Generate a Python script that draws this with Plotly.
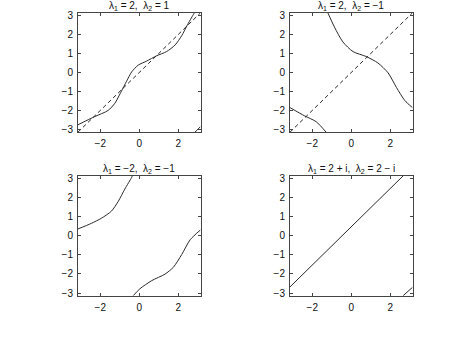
import math
import plotly.graph_objects as go

PI = math.pi

# Titles
titles = ["λ<sub>1</sub> = 2,  λ<sub>2</sub> = 1",
          "λ<sub>1</sub> = 2,  λ<sub>2</sub> = −1",
          "λ<sub>1</sub> = −2,  λ<sub>2</sub> = −1",
          "λ<sub>1</sub> = 2 + i,  λ<sub>2</sub> = 2 − i"]

# Panel 1 (λ1=2, λ2=1): main branch + wrapped piece
p1_x = [-3.1416, -2.28, -1.60, -1.25, -0.95, -0.65, -0.39, -0.05, 0.38, 0.89, 1.40, 1.84, 2.18, 2.44, 2.78, 2.83]
p1_y = [-2.75, -2.32, -2.00, -1.62, -1.05, -0.46, 0.03, 0.39, 0.60, 0.88, 1.10, 1.45, 1.94, 2.45, 3.06, 3.1416]
p1b_x = [2.86, 3.1416]
p1b_y = [-3.1416, -2.85]

# Identity reference (dashed) for the top panels
id_x = [-3.1416, 3.1416]
id_y = [-3.1416, 3.1416]

# Panel 2 (λ1=2, λ2=-1)
p2_x = [-1.20, -0.86, -0.43, 0.09, 0.77, 1.37, 1.89, 2.32, 2.75, 3.1416]
p2_y = [3.1416, 2.39, 1.61, 1.10, 0.84, 0.50, -0.02, -0.79, -1.48, -1.85]
p2b_x = [-3.1416, -2.40, -1.80, -1.29]
p2b_y = [-1.85, -2.28, -2.59, -3.1416]

# Panel 3 (λ1=-2, λ2=-1)
p3_x = [-3.1416, -2.46, -1.94, -1.42, -1.08, -0.74, -0.39, -0.36]
p3_y = [0.36, 0.65, 0.92, 1.30, 1.80, 2.45, 3.06, 3.1416]
p3b_x = [-0.31, 0.03, 0.64, 1.32, 1.75, 2.18, 2.61, 3.1416]
p3b_y = [-3.1416, -2.78, -2.35, -2.01, -1.65, -0.98, -0.21, 0.31]

# Panel 4 (λ1=2+i, λ2=2-i)
p4_x = [-3.1416, 2.66]
p4_y = [-2.68, 3.1416]
p4b_x = [2.66, 3.1416]
p4b_y = [-3.1416, -2.70]

x_ticks = [-2, 0, 2]
y_ticks = [-3, -2, -1, 0, 1, 2, 3]

W, H = 474, 338
xdom = [[78 / W, 200.5 / W], [290 / W, 412.5 / W]]
ydom = [[(H - 131.5) / H, (H - 10) / H], [(H - 298) / H, (H - 176) / H]]

fig = go.Figure()
line_col = "#2a2a2a"

panels = [
    [(p1_x, p1_y, "solid"), (p1b_x, p1b_y, "solid"), (id_x, id_y, "dash")],
    [(p2_x, p2_y, "solid"), (p2b_x, p2b_y, "solid"), (id_x, id_y, "dash")],
    [(p3_x, p3_y, "solid"), (p3b_x, p3b_y, "solid")],
    [(p4_x, p4_y, "solid"), (p4b_x, p4b_y, "solid")],
]

font = dict(family="Liberation Sans, Arial, sans-serif", size=10, color="#111")

for i, traces in enumerate(panels):
    n = i + 1
    xa = "x" if n == 1 else f"x{n}"
    ya = "y" if n == 1 else f"y{n}"
    for (xs, ys, d) in traces:
        fig.add_trace(go.Scatter(
            x=xs, y=ys, mode="lines", xaxis=xa, yaxis=ya,
            line=dict(color=line_col, width=1,
                      dash=("4px,3px" if d == "dash" else "solid"),
                      shape=("spline" if len(xs) > 2 else "linear"),
                      smoothing=0.7),
            cliponaxis=True, showlegend=False, hoverinfo="skip"))
    col = i % 2
    row = i // 2
    axcommon = dict(range=[-PI, PI], showgrid=False, zeroline=False,
                    showline=True, linecolor="#444", linewidth=1, mirror="ticks",
                    ticks="inside", ticklen=3, tickcolor="#444", tickwidth=1,
                    tickfont=font, ticklabelstandoff=2, fixedrange=True)
    fig.layout[f"xaxis{'' if n == 1 else n}"] = dict(
        domain=xdom[col], anchor=ya, tickvals=x_ticks,
        ticktext=[str(v).replace("-", "−") for v in x_ticks], **axcommon)
    fig.layout[f"yaxis{'' if n == 1 else n}"] = dict(
        domain=ydom[row], anchor=xa, tickvals=y_ticks,
        ticktext=[str(v).replace("-", "−") for v in y_ticks], **axcommon)
    fig.add_annotation(text=titles[i], xref="paper", yref="paper",
                       x=(xdom[col][0] + xdom[col][1]) / 2, y=ydom[row][1],
                       xanchor="center", yanchor="bottom", yshift=-1,
                       showarrow=False, font=font)

fig.update_layout(width=W, height=H, margin=dict(l=0, r=0, t=0, b=0),
                  paper_bgcolor="white", plot_bgcolor="white")
fig.write_html("out.html")
